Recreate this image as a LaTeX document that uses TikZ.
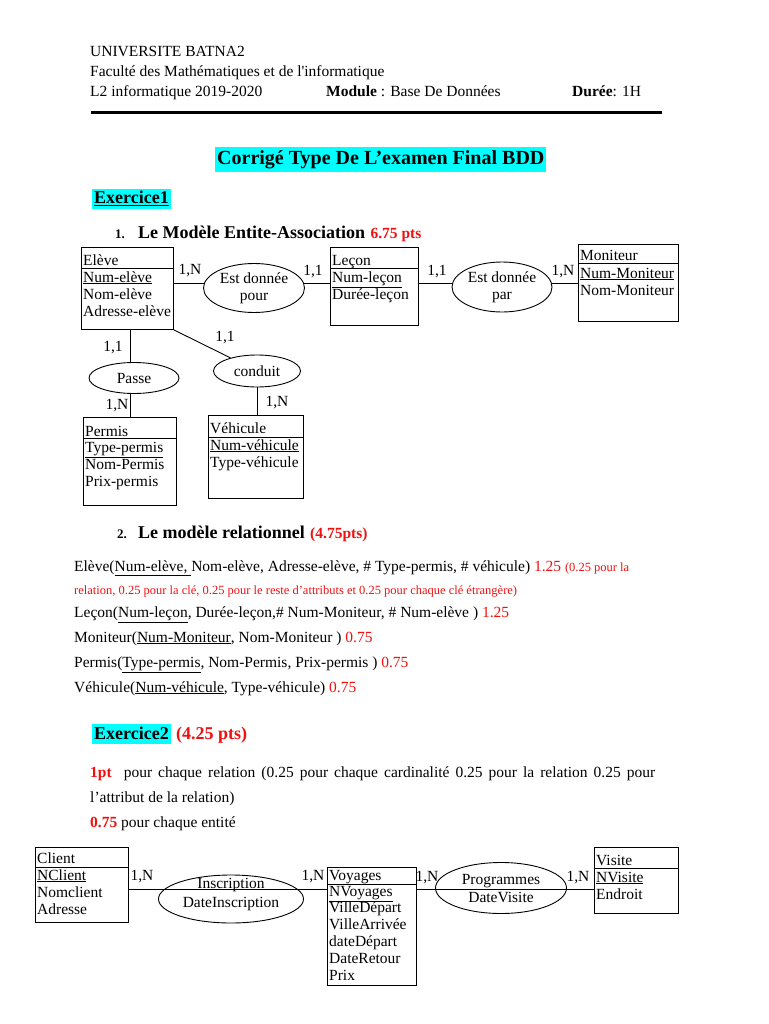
\documentclass[tikz,border=0pt]{standalone}
\usepackage{fontspec}
\setmainfont{Liberation Serif}
\usepackage{tikz}
\usetikzlibrary{positioning,shapes.geometric,calc}
\definecolor{pts}{HTML}{F01010}
\definecolor{hilite}{HTML}{00FFFF}
\tikzset{
  ent/.style={draw,line width=0.9pt,anchor=north west,inner sep=0pt},
  att/.style={anchor=base west,inner sep=0pt,font=\fontsize{15.5}{17}\selectfont},
  assoc/.style={ellipse,draw,line width=0.9pt,inner sep=0pt,align=center,
    font=\fontsize{15.5}{17}\selectfont},
  card/.style={inner sep=0pt,font=\fontsize{15.5}{17}\selectfont},
  lnk/.style={line width=0.9pt},
  txt/.style={anchor=base west,inner sep=0pt,font=\fontsize{15.5}{18}\selectfont},
  head/.style={anchor=base west,inner sep=0pt,font=\fontsize{18}{20}\selectfont\bfseries},
  num/.style={anchor=base west,inner sep=0pt,font=\fontsize{13}{15}\selectfont\bfseries},
  note/.style={anchor=base west,inner sep=0pt,text=pts,font=\fontsize{15.5}{18}\selectfont\bfseries},
  hl/.style={fill=hilite,anchor=base west,inner ysep=0pt,inner xsep=2pt},
}
\begin{document}
\begin{tikzpicture}[x=1pt,y=-1pt]
  \useasboundingbox (0,0) rectangle (768,1024);
  \fill[white] (0,0) rectangle (768,1024);

  % en-tete
  \node[txt] (univ) at (90,57) {UNIVERSITE BATNA2};
  \node[txt] (fac) at (90,77) {Faculté des Mathématiques et de l\textquotesingle informatique};
  \node[txt] (niv) at (90,97) {L2 informatique 2019-2020};
  \node[txt] (mod) at (326,97) {\textbf{Module} : Base De Données};
  \node[txt] (dur) at (572,97) {\textbf{Durée}: 1H};
  \draw[line width=3pt] (91,113) -- (662,113);

  \node[hl,font=\fontsize{20}{22}\selectfont\bfseries,text height=18,text depth=7]
    (titre) at (215,165) {Corrigé Type De L’examen Final BDD};

  % exercice 1
  \node[hl,font=\fontsize{18}{20}\selectfont\bfseries,text height=15,text depth=5]
    (ex1) at (92,204) {\underline{Exercice1}};
  \node[num] (n1) at (115,239) {1.};
  \node[head] (h1) at (138,239) {Le Modèle Entite-Association};
  \node[note] (p1) at ([xshift=5pt]h1.base east) {6.75 pts};

  % entites
  \node[ent,minimum width=92,minimum height=82] (eleve) at (81,247) {};
  \draw[lnk] ([yshift=-21pt]eleve.north west) -- ([yshift=-21pt]eleve.north east);
  \node[att] (eleve-t) at ($(eleve.north west)+(2,18)$) {Elève};
  \foreach \a [count=\i from 0] in {\underline{Num-elève},Nom-elève,Adresse-elève}
    \node[att] (eleve-\i) at ($(eleve.north west)+(2,35+17*\i)$) {\a};

  \node[ent,minimum width=88,minimum height=78] (lecon) at (330,247) {};
  \draw[lnk] ([yshift=-21pt]lecon.north west) -- ([yshift=-21pt]lecon.north east);
  \node[att] (lecon-t) at ($(lecon.north west)+(2,18)$) {Leçon};
  \foreach \a [count=\i from 0] in {\underline{Num-leçon},Durée-leçon}
    \node[att] (lecon-\i) at ($(lecon.north west)+(2,35+17*\i)$) {\a};

  \node[ent,minimum width=100,minimum height=77] (moniteur) at (578,244) {};
  \draw[lnk] ([yshift=-19pt]moniteur.north west) -- ([yshift=-19pt]moniteur.north east);
  \node[att] (moniteur-t) at ($(moniteur.north west)+(2,16)$) {Moniteur};
  \foreach \a [count=\i from 0] in {\underline{Num-Moniteur},Nom-Moniteur}
    \node[att] (moniteur-\i) at ($(moniteur.north west)+(2,34+17*\i)$) {\a};

  \node[ent,minimum width=93,minimum height=88] (permis) at (83,417) {};
  \draw[lnk] ([yshift=-21pt]permis.north west) -- ([yshift=-21pt]permis.north east);
  \node[att] (permis-t) at ($(permis.north west)+(2,19)$) {Permis};
  \foreach \a [count=\i from 0] in {\underline{Type-permis},Nom-Permis,Prix-permis}
    \node[att] (permis-\i) at ($(permis.north west)+(2,35+17*\i)$) {\a};

  \node[ent,minimum width=95,minimum height=83] (vehicule) at (208,415) {};
  \draw[lnk] ([yshift=-22pt]vehicule.north west) -- ([yshift=-22pt]vehicule.north east);
  \node[att] (vehicule-t) at ($(vehicule.north west)+(2,18)$) {Véhicule};
  \foreach \a [count=\i from 0] in {\underline{Num-véhicule},Type-véhicule}
    \node[att] (vehicule-\i) at ($(vehicule.north west)+(2,35+17*\i)$) {\a};

  % associations
  \coordinate (rowA) at (0,283);
  \draw[lnk] (eleve.east |- rowA) -- (lecon.west |- rowA);
  \draw[lnk] (lecon.east |- rowA) -- (moniteur.west |- rowA);
  \draw[lnk] (permis.north |- eleve.south) -- (permis.north);
  \node[assoc,fill=white,minimum width=101,minimum height=49] (pour) at (254,288) {Est donnée\\pour};
  \node[assoc,fill=white,minimum width=100,minimum height=50] (par) at (502,287) {Est donnée\\par};
  \node[assoc,fill=white,minimum width=90,minimum height=31] (passe) at (134,378) {Passe};
  \node[assoc,minimum width=87,minimum height=32] (conduit) at (257,371) {conduit};
  \draw[lnk] (eleve.south east) -- (conduit);
  \draw[lnk] (conduit.south) -- (conduit.south |- vehicule.north);

  \foreach \x/\y/\t [count=\k] in {190/271/{1,N},313/272/{1,1},437/272/{1,1},563/272/{1,N},
      113/348/{1,1},117/406/{1,N},225/338/{1,1},277/403/{1,N}}
    \node[card] (carda\k) at (\x,\y) {\t};

  % modele relationnel
  \node[num] (n2) at (117,538) {2.};
  \node[head] (h2) at (138,538) {Le modèle relationnel};
  \node[note] (p2) at ([xshift=5pt]h2.base east) {(4.75pts)};

  \node[txt] (r1) at (74,571) {Elève(\underline{Num-elève, }Nom-elève, Adresse-elève, \# Type-permis, \# véhicule) \textcolor{pts}{1.25 {\fontsize{12.5}{13}\selectfont (0.25 pour la}}};
  \node[txt,text=pts,font=\fontsize{12.5}{13}\selectfont] (r1b) at (74,594) {relation, 0.25 pour la clé, 0.25 pour le reste d’attributs et 0.25 pour chaque clé étrangère)};
  \node[txt] (r2) at (74,617) {Leçon(\underline{Num-leçon}, Durée-leçon,\# Num-Moniteur, \# Num-elève ) \textcolor{pts}{1.25}};
  \node[txt] (r3) at (74,642) {Moniteur(\underline{Num-Moniteur}, Nom-Moniteur ) \textcolor{pts}{0.75}};
  \node[txt] (r4) at (74,667) {Permis(\underline{Type-permis}, Nom-Permis, Prix-permis ) \textcolor{pts}{0.75}};
  \node[txt] (r5) at (74,692) {Véhicule(\underline{Num-véhicule}, Type-véhicule) \textcolor{pts}{0.75}};

  % exercice 2
  \node[hl,font=\fontsize{18}{20}\selectfont\bfseries,text height=15,text depth=5]
    (ex2) at (92,739) {Exercice2};
  \node[note,font=\fontsize{18}{20}\selectfont\bfseries] (p3) at ([xshift=5pt]ex2.base east) {(4.25 pts)};
  \node[txt] (t1) at (90,777) {\makebox[565pt][s]{\textcolor{pts}{\textbf{1pt}}\ \ pour chaque relation (0.25 pour chaque cardinalité 0.25 pour la relation 0.25 pour}};
  \node[txt] (t2) at (90,802) {l’attribut de la relation)};
  \node[txt] (t3) at (90,827) {\textcolor{pts}{\textbf{0.75}} pour chaque entité};

  \node[ent,minimum width=93,minimum height=75] (client) at (35,847) {};
  \draw[lnk] ([yshift=-20pt]client.north west) -- ([yshift=-20pt]client.north east);
  \node[att] (client-t) at ($(client.north west)+(2,16)$) {Client};
  \foreach \a [count=\i from 0] in {\underline{NClient},Nomclient,Adresse}
    \node[att] (client-\i) at ($(client.north west)+(2,33+17*\i)$) {\a};

  \node[ent,minimum width=89,minimum height=118] (voyages) at (327,867) {};
  \draw[lnk] ([yshift=-17pt]voyages.north west) -- ([yshift=-17pt]voyages.north east);
  \node[att] (voyages-t) at ($(voyages.north west)+(2,13)$) {Voyages};
  \foreach \a [count=\i from 0] in {\underline{NVoyages},VilleDépart,VilleArrivée,dateDépart,DateRetour,Prix}
    \node[att] (voyages-\i) at ($(voyages.north west)+(2,29+16.8*\i)$) {\a};

  \node[ent,minimum width=84,minimum height=66] (visite) at (594,847) {};
  \draw[lnk] ([yshift=-21pt]visite.north west) -- ([yshift=-21pt]visite.north east);
  \node[att] (visite-t) at ($(visite.north west)+(2,18)$) {Visite};
  \foreach \a [count=\i from 0] in {\underline{NVisite},Endroit}
    \node[att] (visite-\i) at ($(visite.north west)+(2,35+17*\i)$) {\a};

  \coordinate (rowB) at (0,889);
  \draw[lnk] (client.east |- rowB) -- (voyages.west |- rowB);
  \draw[lnk] (voyages.east |- rowB) -- (visite.west |- rowB);
  \node[assoc,minimum width=145,minimum height=48] (ins) at (231,899) {};
  \node[card,anchor=base] (ins-n) at (231,888) {Inscription};
  \node[card,anchor=base] (ins-a) at (231,907) {DateInscription};
  \node[assoc,minimum width=131,minimum height=51] (prog) at (501,888) {};
  \node[card,anchor=base] (prog-n) at (501,884) {Programmes};
  \node[card,anchor=base] (prog-a) at (501,902) {DateVisite};

  \foreach \x/\y [count=\k] in {142/877,313/877,427/878,578/878}
    \node[card] (cardb\k) at (\x,\y) {1,N};
\end{tikzpicture}
\end{document}
